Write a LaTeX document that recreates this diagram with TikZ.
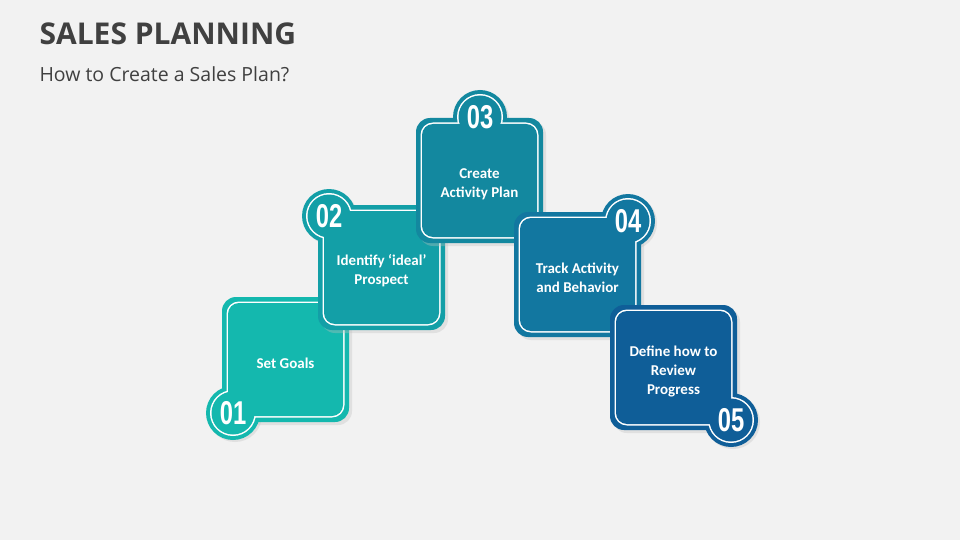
\documentclass[tikz,border=0pt]{standalone}
\usepackage{fontspec}
\setmainfont{Carlito}
\newfontfamily\numfont[FakeStretch=0.72]{Liberation Sans}
\newfontfamily\titlefont{Open Sans}
\definecolor{bg}{HTML}{F2F2F2}
\definecolor{cA}{HTML}{14B8AE}
\definecolor{cB}{HTML}{139FA7}
\definecolor{cC}{HTML}{13889F}
\definecolor{cD}{HTML}{1277A0}
\definecolor{cE}{HTML}{0F5E98}
\definecolor{ttl}{HTML}{404040}
\tikzset{lbl/.style={text=white,font=\bfseries\fontsize{15}{19}\selectfont,align=center},
num/.style={text=white,font=\numfont\bfseries\fontsize{33}{33}\selectfont}}
\newcommand{\stepblock}[8]{%
\fill[black!25,opacity=0.35,rounded corners=14] (#1+3,-#2-128) rectangle (#1+130,-#2-3);
\fill[black!25,opacity=0.35] (#3+2,-#4-2) circle (27);
\fill[#5,rounded corners=14] (#1,-#2-125) rectangle (#1+127,-#2);
\fill[#5] (#3,-#4) circle (27);
\draw[white,line width=3,rounded corners=11] (#1+6,-#2-119) rectangle (#1+121,-#2-6);
\draw[white,line width=3] (#3,-#4) circle (21.5);
\fill[#5,rounded corners=11] (#1+6,-#2-119) rectangle (#1+121,-#2-6);
\fill[#5] (#3,-#4) circle (21.5);
\node[num] (n#8) at (#3,-#4) {#6};
\node[lbl] (t#8) at (#1+63.5,-#2-66) {#7};
}
\begin{document}
\begin{tikzpicture}[x=1pt,y=1pt]
\fill[bg] (0,-540) rectangle (960,0);
\useasboundingbox (0,-540) rectangle (960,0);
\node[anchor=west,text=ttl,font=\titlefont\bfseries\fontsize{30}{34}\selectfont] (title) at (36,-34) {SALES PLANNING};
\node[anchor=west,text=ttl,font=\titlefont\fontsize{19.5}{22}\selectfont] (sub) at (36,-74) {How to Create a Sales Plan?};
\stepblock{222}{297}{233}{413}{cA}{01}{Set Goals}{a}
\stepblock{318}{205}{329}{216}{cB}{02}{Identify ‘ideal’\\Prospect}{b}
\stepblock{416}{118}{480}{117}{cC}{03}{Create\\Activity Plan}{c}
\stepblock{514}{212}{628}{221}{cD}{04}{Track Activity\\and Behavior}{d}
\stepblock{610}{305}{731}{420}{cE}{05}{Define how to\\Review\\Progress}{e}
\end{tikzpicture}
\end{document}
